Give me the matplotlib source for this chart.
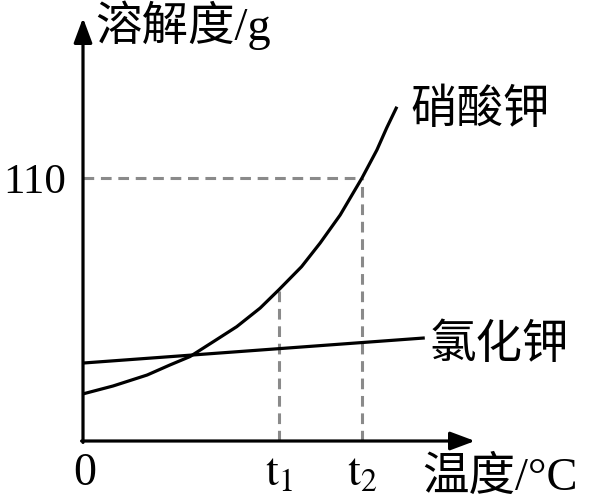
import matplotlib
matplotlib.use("Agg")
import matplotlib.pyplot as plt
import numpy as np

plt.rcParams['font.family'] = ['Liberation Serif', 'Noto Sans CJK SC']
plt.rcParams['mathtext.fontset'] = 'stix'

# solubility curves (temperature in arbitrary units, t2 = 60)
kno3_t = [0, 6.45, 13.8, 18.7, 23.0, 28.0, 33.05, 38.1, 42.2, 47.0, 51.0, 55.3, 60.0, 63.2, 65.3, 67.5]
kno3_s = [19.7, 23.0, 27.6, 31.8, 35.3, 41.5, 47.8, 55.6, 63.4, 72.9, 82.8, 94.5, 110.0, 121.7, 130.9, 139.8]
kcl_t = [0, 73.5]
kcl_s = [32.6, 43.1]

t1, t2 = 42.2, 60.0
s_t1 = 63.4
s_mark = 110
x_max, y_max = 84.3, 176.9

fig = plt.figure(figsize=(5.97, 5.0), dpi=100)
ax = fig.add_axes([83 / 597, 1 - 441 / 500, (475 - 83) / 597, (441 - 18) / 500])
ax.set_xlim(0, x_max)
ax.set_ylim(0, y_max)
for sp in ax.spines.values():
    sp.set_visible(False)

# dashed guide lines
gray = '#8a8a8a'
dash = (0, (3.5, 2.2))
ax.plot([0, t2], [s_mark, s_mark], color=gray, lw=2.2, ls=dash)
ax.plot([t2, t2], [0, s_mark], color=gray, lw=2.2, ls=dash)
ax.plot([t1, t1], [0, s_t1], color=gray, lw=2.2, ls=dash)

# curves
ax.plot(kno3_t, kno3_s, color='black', lw=2.3, solid_joinstyle='round', solid_capstyle='butt')
ax.plot(kcl_t, kcl_s, color='black', lw=2.3, solid_capstyle='butt')

# axes with arrows
arrow = dict(arrowstyle='-|>,head_length=0.75,head_width=0.28', color='black', lw=2.3,
             shrinkA=0, shrinkB=0, mutation_scale=20)
ax.annotate('', xy=(x_max, 0), xytext=(-0.3, 0), arrowprops=arrow, annotation_clip=False)
ax.annotate('', xy=(0, y_max), xytext=(0, -0.6), arrowprops=arrow, annotation_clip=False)

# ticks
ax.set_xticks([0.4, t1, t2])
ax.set_xticklabels(['0', r'$\mathrm{t}_1$', r'$\mathrm{t}_2$'], fontsize=33)
ax.set_yticks([s_mark])
ax.set_yticklabels(['110'], fontsize=31)
ax.tick_params(length=0)
ax.tick_params(axis='x', pad=8)
ax.tick_params(axis='y', pad=12)

# labels
ax.text(2.6, y_max - 3, '溶解度/g', fontsize=33.5, ha='left', va='center', clip_on=False)
ax.text(73.0, -15.5, '温度/°C', fontsize=33.5, ha='left', va='center', clip_on=False)
ax.text(70.5, 138.0, '硝酸钾', fontsize=33.5, ha='left', va='center', clip_on=False)
ax.text(74.5, 39.5, '氯化钾', fontsize=33.5, ha='left', va='center', clip_on=False)

fig.savefig('out.png', dpi=100)
